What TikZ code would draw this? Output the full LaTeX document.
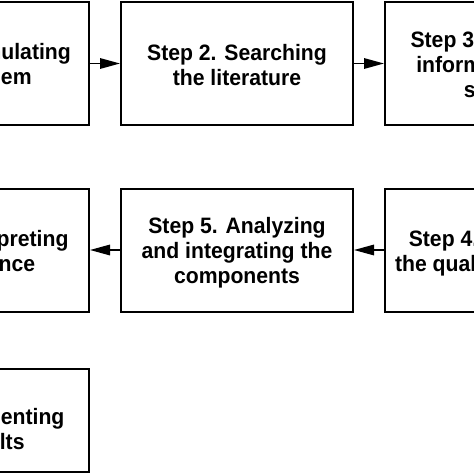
\documentclass[tikz,border=0pt]{standalone}
\usepackage{fontspec}
\setmainfont{Liberation Sans}[FakeStretch=0.95]
\usetikzlibrary{arrows.meta}
\newcommand{\lnstrut}{\vrule height 22pt depth 4pt width 0pt}
\newcommand{\stepfont}{\bfseries\fontsize{22.3}{25}\selectfont\lineskiplimit=-100pt\lineskip=0pt}
\tikzset{
  stepbox/.style={draw=black, line width=2pt, rectangle, minimum width=232pt, minimum height=123pt, inner sep=0pt, fill=white, align=center, font=\stepfont},
  leftbox/.style={stepbox, minimum width=236pt},
  steptext/.style={align=center, inner sep=0pt, font=\stepfont},
  flow/.style={line width=1.6pt, -{Triangle[length=20pt,width=10.5pt]}}
}
\begin{document}
\begin{tikzpicture}[x=1pt,y=-1pt]
\useasboundingbox (0,0) rectangle (474,474);
\clip (0,0) rectangle (474,474);
\fill[white] (0,0) rectangle (474,474);
% row 1
\node[leftbox] (b1) at (-29,63.5) {\lnstrut Step 1. Formulating\\\lnstrut the problem};
\node[stepbox] (b2) at (237,63.5) {\lnstrut Step 2. Searching\\\lnstrut the literature};
\node[stepbox] (b3) at (501,63.5) {\lnstrut Step 3. Extracting\\\lnstrut information from\\\lnstrut studies};
% row 2
\node[leftbox] (b6) at (-29,250) {\lnstrut Step 6. Interpreting\\\lnstrut the evidence};
\node[stepbox] (b5) at (237,250) {\lnstrut Step 5. Analyzing\\\lnstrut and integrating the\\\lnstrut components};
\node[stepbox] (b4) at (501,250) {\lnstrut Step 4. Evaluating\\\lnstrut the quality of studies};
% row 3
\node[leftbox, minimum height=103pt] (b7) at (-29,420.5) {};
\node[steptext] (t7) at ([yshift=-7pt]b7.center) {\lnstrut Step 7. Presenting\\\lnstrut the results};
% arrows
\draw[flow] (b1.east) -- (b2.west);
\draw[flow] (b2.east) -- (b3.west);
\draw[flow] (b4.west) -- (b5.east);
\draw[flow] (b5.west) -- (b6.east);
\end{tikzpicture}
\end{document}
